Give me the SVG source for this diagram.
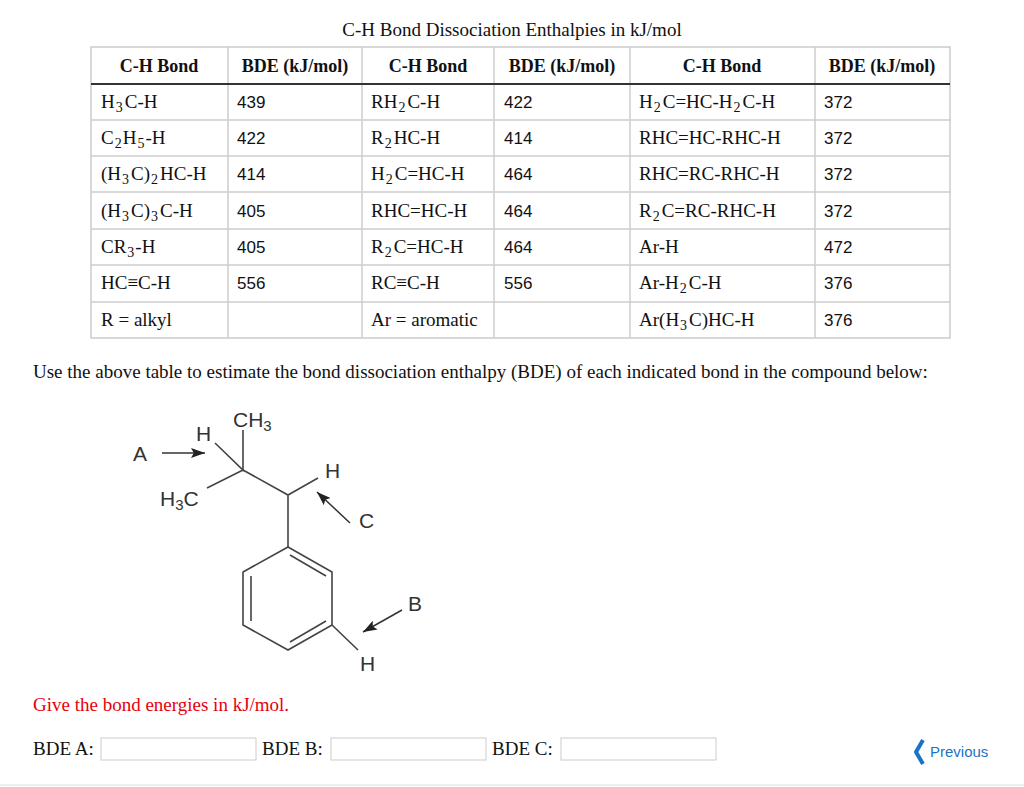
<svg xmlns="http://www.w3.org/2000/svg" width="1024" height="787" viewBox="0 0 1024 787">
<style>
.s{font-family:"Liberation Serif",serif;font-size:19px;fill:#111}
.b{font-weight:bold;text-anchor:middle;font-size:18px}
.n{font-family:"Liberation Sans",Arial,sans-serif;font-size:17px;fill:#111}
.g{stroke:#ccc;stroke-width:1.5}
.m{font-family:"Liberation Sans",Arial,sans-serif;font-size:21px;fill:#333}
.bd{stroke:#444;stroke-width:1.6;fill:none}
.ar{stroke:#333;stroke-width:1.5;marker-end:url(#ah)}
.sub{font-size:14px}
</style>
<defs><marker id="ah" viewBox="0 0 10 10" refX="10" refY="5" markerWidth="14" markerHeight="10" orient="auto" markerUnits="userSpaceOnUse" preserveAspectRatio="none"><path d="M0,0L10,5L0,10L2,5z" fill="#222"/></marker></defs>
<rect width="1024" height="787" fill="#fff"/>
<text class="s" x="512" y="36" text-anchor="middle">C-H Bond Dissociation Enthalpies in kJ/mol</text>
<g id="table">
<rect x="91" y="47" width="859" height="291" fill="none" class="g"/>
<g class="g">
<line x1="228" y1="47" x2="228" y2="338"/><line x1="362" y1="47" x2="362" y2="338"/><line x1="494" y1="47" x2="494" y2="338"/><line x1="630" y1="47" x2="630" y2="338"/><line x1="815" y1="47" x2="815" y2="338"/>
<line x1="91" y1="120" x2="950" y2="120"/><line x1="91" y1="156" x2="950" y2="156"/><line x1="91" y1="192" x2="950" y2="192"/><line x1="91" y1="229" x2="950" y2="229"/><line x1="91" y1="265" x2="950" y2="265"/><line x1="91" y1="302" x2="950" y2="302"/>
</g>
<line x1="91" y1="84" x2="950" y2="84" stroke="#333" stroke-width="2"/>
<g class="s b"><text x="159" y="72">C-H Bond</text><text x="295" y="72">BDE (kJ/mol)</text><text x="428" y="72">C-H Bond</text><text x="562" y="72">BDE (kJ/mol)</text><text x="722" y="72">C-H Bond</text><text x="882" y="72">BDE (kJ/mol)</text></g>
<g class="s">
<text x="101" y="108">H<tspan class="sub" dx="1" dy="4">3</tspan><tspan dx="2" dy="-4">C-H</tspan></text>
<text x="101" y="144">C<tspan class="sub" dx="1" dy="4">2</tspan><tspan dx="1" dy="-4">H</tspan><tspan class="sub" dx="1" dy="4">5</tspan><tspan dx="1" dy="-4">-H</tspan></text>
<text x="101" y="180">(H<tspan class="sub" dx="1" dy="4">3</tspan><tspan dx="2" dy="-4">C)</tspan><tspan class="sub" dx="1" dy="4">2</tspan><tspan dx="2" dy="-4">HC-H</tspan></text>
<text x="101" y="217">(H<tspan class="sub" dx="1" dy="4">3</tspan><tspan dx="2" dy="-4">C)</tspan><tspan class="sub" dx="1" dy="4">3</tspan><tspan dx="2" dy="-4">C-H</tspan></text>
<text x="101" y="253">CR<tspan class="sub" dx="1" dy="4">3</tspan><tspan dx="1" dy="-4">-H</tspan></text>
<text x="101" y="289">HC≡C-H</text>
<text x="101" y="326">R = alkyl</text>
<text x="371" y="108">RH<tspan class="sub" dx="1" dy="4">2</tspan><tspan dx="2" dy="-4">C-H</tspan></text>
<text x="371" y="144">R<tspan class="sub" dx="1" dy="4">2</tspan><tspan dx="2" dy="-4">HC-H</tspan></text>
<text x="371" y="180">H<tspan class="sub" dx="1" dy="4">2</tspan><tspan dx="2" dy="-4">C=HC-H</tspan></text>
<text x="371" y="217">RHC=HC-H</text>
<text x="371" y="253">R<tspan class="sub" dx="1" dy="4">2</tspan><tspan dx="2" dy="-4">C=HC-H</tspan></text>
<text x="371" y="289">RC≡C-H</text>
<text x="371" y="326">Ar = aromatic</text>
<text x="639" y="108">H<tspan class="sub" dx="1" dy="4">2</tspan><tspan dx="2" dy="-4">C=HC-H</tspan><tspan class="sub" dx="1" dy="4">2</tspan><tspan dx="2" dy="-4">C-H</tspan></text>
<text x="639" y="144">RHC=HC-RHC-H</text>
<text x="639" y="180">RHC=RC-RHC-H</text>
<text x="639" y="217">R<tspan class="sub" dx="1" dy="4">2</tspan><tspan dx="2" dy="-4">C=RC-RHC-H</tspan></text>
<text x="639" y="253">Ar-H</text>
<text x="639" y="289">Ar-H<tspan class="sub" dx="1" dy="4">2</tspan><tspan dx="2" dy="-4">C-H</tspan></text>
<text x="639" y="326">Ar(H<tspan class="sub" dx="1" dy="4">3</tspan><tspan dx="2" dy="-4">C)HC-H</tspan></text>
</g>
<g class="n">
<text x="237" y="108">439</text><text x="237" y="144">422</text><text x="237" y="180">414</text><text x="237" y="217">405</text><text x="237" y="253">405</text><text x="237" y="289">556</text>
<text x="504" y="108">422</text><text x="504" y="144">414</text><text x="504" y="180">464</text><text x="504" y="217">464</text><text x="504" y="253">464</text><text x="504" y="289">556</text>
<text x="824" y="108">372</text><text x="824" y="144">372</text><text x="824" y="180">372</text><text x="824" y="217">372</text><text x="824" y="253">472</text><text x="824" y="289">376</text><text x="824" y="326">376</text>
</g>
</g>
<text class="s" x="33" y="378">Use the above table to estimate the bond dissociation enthalpy (BDE) of each indicated bond in the compound below:</text>
<g id="molecule">
<path class="bd" d="M243,430L243,470L215,443M243,470L207,488M243,470L288,495L318,478M288,495L288,547"/>
<path class="bd" d="M288,547L332,572L332,625L288,650L243,625L243,572Z"/>
<path class="bd" d="M290,555L326,576M251,576L251,621M290,642L326,621M332,625L358,650"/>
<text class="m" x="233" y="427">CH<tspan font-size="15" dy="4">3</tspan></text>
<text class="m" x="196" y="441">H</text>
<text class="m" x="160" y="506">H<tspan font-size="15" dy="4">3</tspan><tspan dy="-4">C</tspan></text>
<text class="m" x="325" y="478">H</text>
<text class="m" x="360" y="671">H</text>
</g>
<g id="connectors">
<line class="ar" x1="162" y1="453" x2="205" y2="453"/>
<line class="ar" x1="350" y1="523" x2="317" y2="492"/>
<line class="ar" x1="402" y1="610" x2="363" y2="632"/>
</g>
<g id="labels" class="m"><text x="133" y="461">A</text><text x="359" y="528">C</text><text x="408" y="611">B</text></g>
<text x="33" y="711" font-family="Liberation Serif,serif" font-size="19" fill="#e8000b">Give the bond energies in kJ/mol.</text>
<g id="inputs" class="s">
<text x="33" y="755">BDE A:</text><rect x="101" y="738" width="155" height="22" fill="#fff" stroke="#ccc"/>
<text x="262" y="755">BDE B:</text><rect x="331" y="738" width="155" height="22" fill="#fff" stroke="#ccc"/>
<text x="492" y="755">BDE C:</text><rect x="561" y="738" width="155" height="22" fill="#fff" stroke="#ccc"/>
</g>
<g id="prev"><path d="M923,740L916,752L923,764" fill="none" stroke="#1a73c8" stroke-width="4" stroke-linejoin="round"/><text x="930" y="757" font-family="Liberation Sans,Arial,sans-serif" font-size="15" fill="#1a73c8">Previous</text></g>
<line x1="0" y1="785" x2="1024" y2="785" stroke="#eee" stroke-width="2"/>
</svg>
